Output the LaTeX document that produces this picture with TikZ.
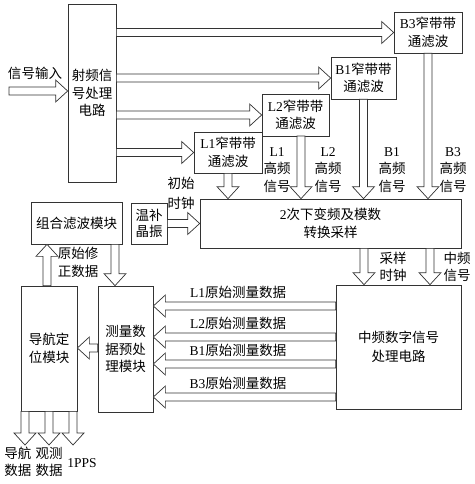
\documentclass[tikz,border=0pt]{standalone}
\usepackage{fontspec}
\setmainfont{Liberation Serif}
\newfontfamily\cjk{Noto Sans CJK SC}
\usetikzlibrary{calc}
\newcommand\lt[1]{{\rmfamily #1}}
\def\aw{4pt}\def\ah{11pt}\def\ahl{12pt}
\newcommand\hollowarr[2]{%
  \coordinate (hs) at (#1);
  \coordinate (ht) at (#2);
  \coordinate (hb) at ($(ht)!\ahl!(hs)$);
  \draw[arr] ($(hs)!\aw!90:(ht)$) -- ($(hb)!\aw!90:(ht)$) -- ($(hb)!\ah!90:(ht)$) -- (ht)
    -- ($(hb)!\ah!-90:(ht)$) -- ($(hb)!\aw!-90:(ht)$) -- ($(hs)!\aw!-90:(ht)$) -- cycle;
}
\begin{document}
\begin{tikzpicture}[x=1pt,y=-1pt,
  box/.style={draw=black!80, line width=0.7pt, inner sep=0pt, align=center,
    font=\cjk\fontsize{13.5}{17.5}\selectfont},
  lbl/.style={inner sep=0pt, align=center, font=\cjk\fontsize{13.5}{17.5}\selectfont},
  arr/.style={draw=black!80, line width=0.7pt, fill=white, line join=miter}]
\useasboundingbox (0,0) rectangle (474,484);

% boxes
\node[box, minimum width=48pt, minimum height=178pt] (rf) at (92,93) {射频信\\号处理\\电路};
\node[box, minimum width=68pt, minimum height=41pt] (b3f) at (428,32.5) {\lt{B3}窄带带\\通滤波};
\node[box, minimum width=65pt, minimum height=42pt] (b1f) at (363.5,78) {\lt{B1}窄带带\\通滤波};
\node[box, minimum width=67pt, minimum height=42pt] (l2f) at (295.5,115) {\lt{L2}窄带带\\通滤波};
\node[box, minimum width=68pt, minimum height=41pt] (l1f) at (228,152.5) {\lt{L1}窄带带\\通滤波};
\node[box, minimum width=261pt, minimum height=49pt] (adc) at (330.5,223.5) {\lt{2}次下变频及模数\\转换采样};
\node[box, minimum width=36pt, minimum height=41pt, font=\cjk\fontsize{13.5}{16}\selectfont] (tcxo) at (149,223.5) {温补\\晶振};
\node[box, minimum width=91pt, minimum height=42pt] (comb) at (76.5,223) {组合滤波模块};
\node[box, minimum width=56pt, minimum height=125pt] (nav) at (49,348.5) {导航定\\位模块};
\node[box, minimum width=55pt, minimum height=126pt] (pre) at (125.5,349) {测量数\\据预处\\理模块};
\node[box, minimum width=125pt, minimum height=124pt, font=\cjk\fontsize{13.5}{19}\selectfont] (ifp) at (398.5,347) {中频数字信号\\处理电路};

% labels
\node[lbl] (tin) at (35,73) {信号输入};
\node[lbl, font=\cjk\fontsize{13.5}{20}\selectfont] (tclk) at (181,193) {初始\\时钟};
\node[lbl] (tl1) at (277,170) {\lt{L1}\\高频\\信号};
\node[lbl] (tl2) at (328,170) {\lt{L2}\\高频\\信号};
\node[lbl] (tb1) at (392,170) {\lt{B1}\\高频\\信号};
\node[lbl] (tb3) at (453,170) {\lt{B3}\\高频\\信号};
\node[lbl] (tsc) at (393,267) {采样\\时钟};
\node[lbl] (tif) at (457,267) {中频\\信号};
\node[lbl] (m1) at (238,292) {\lt{L1}原始测量数据};
\node[lbl] (m2) at (238,323) {\lt{L2}原始测量数据};
\node[lbl] (m3) at (238,350) {\lt{B1}原始测量数据};
\node[lbl] (m4) at (238,383) {\lt{B3}原始测量数据};
\node[lbl] (tcorr) at (78,262.5) {原始修\\正数据};
\node[lbl] (o1t) at (18,462) {导航\\数据};
\node[lbl] (o2t) at (49,462) {观测\\数据};
\node[lbl] (o3t) at (82,463) {\lt{1PPS}};

% helper coordinates
\coordinate (inS) at (9,91);
\coordinate (l2o) at (301,136);
\coordinate (c1) at (364,0);
\coordinate (c2) at (430,0);
\coordinate (r1) at (0,306);
\coordinate (r2) at (0,337);
\coordinate (r3) at (0,364);
\coordinate (r4) at (0,397);
\coordinate (r5) at (0,348);
\coordinate (u1) at (47,0);
\coordinate (d1) at (115,0);
\coordinate (o1) at (25,445);
\coordinate (o2) at (49,445);
\coordinate (o3) at (73,445);

% arrows
\hollowarr{inS}{rf.west |- inS}
\hollowarr{rf.east |- b3f.west}{b3f.west}
\hollowarr{rf.east |- b1f.west}{b1f.west}
\hollowarr{rf.east |- l2f.west}{l2f.west}
\hollowarr{rf.east |- l1f.west}{l1f.west}
\hollowarr{l1f.south}{l1f.south |- adc.north}
\hollowarr{l2o}{l2o |- adc.north}
\hollowarr{b1f.south}{b1f.south |- adc.north}
\hollowarr{b3f.south}{b3f.south |- adc.north}
\hollowarr{tcxo.east}{adc.west |- tcxo.east}
\hollowarr{adc.south -| c1}{ifp.north -| c1}
\hollowarr{adc.south -| c2}{ifp.north -| c2}
\hollowarr{ifp.west |- r1}{pre.east |- r1}
\hollowarr{ifp.west |- r2}{pre.east |- r2}
\hollowarr{ifp.west |- r3}{pre.east |- r3}
\hollowarr{ifp.west |- r4}{pre.east |- r4}
\hollowarr{pre.west |- r5}{nav.east |- r5}
\hollowarr{nav.north -| u1}{comb.south -| u1}
\hollowarr{comb.south -| d1}{pre.north -| d1}
\hollowarr{nav.south -| o1}{o1}
\hollowarr{nav.south -| o2}{o2}
\hollowarr{nav.south -| o3}{o3}
\end{tikzpicture}
\end{document}
